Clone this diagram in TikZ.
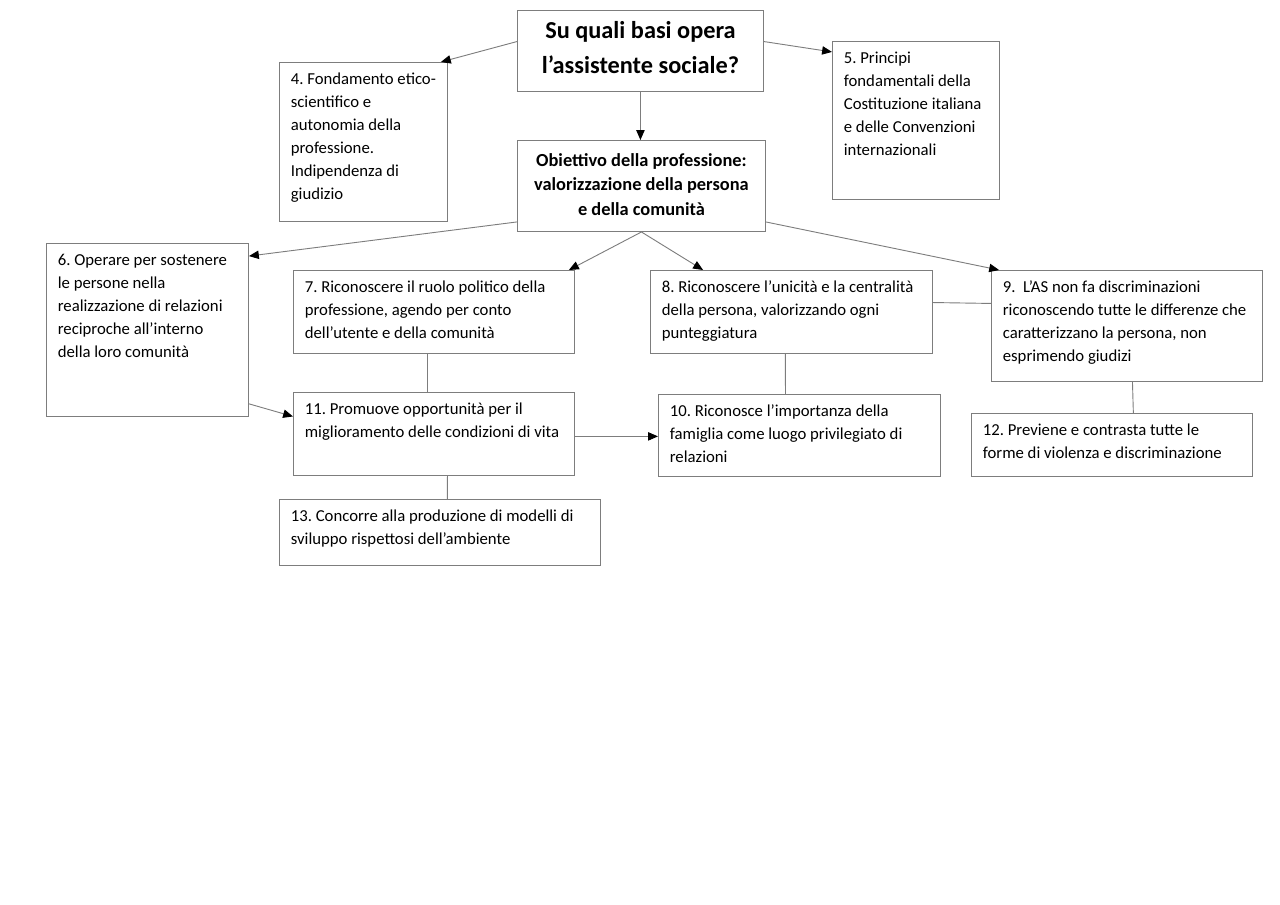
\documentclass[tikz,border=0pt]{standalone}
\usepackage{fontspec}
\setmainfont{Carlito}
\usepackage{tikz}
\usetikzlibrary{arrows.meta}
\frenchspacing

\definecolor{bordo}{RGB}{125,125,125}
% testo allineato in alto a sinistra dentro una casella di misura fissa
\newcommand{\cella}[3]{\parbox[c][#2][t]{#1}{\raggedright\vspace*{4pt}\strut #3}}

\begin{document}
\begin{tikzpicture}[x=0.6578pt, y=-0.6578pt]
    \tikzstyle{voce} = [draw=bordo, line width=0.6pt, anchor=north west, inner xsep=7.5pt, inner ysep=0pt, font=\fontsize{11}{15.1}\selectfont]
    \tikzstyle{centrale} = [draw=bordo, line width=0.6pt, anchor=north west, align=center, inner sep=0pt, font=\bfseries]
    \tikzstyle{freccia} = [draw=bordo, line width=0.6pt, -{Triangle[length=6.5pt, width=5.5pt, color=black]}]
    \tikzstyle{linea} = [draw=bordo, line width=0.6pt]
    \useasboundingbox (0,0) rectangle (1280,905);

    \node[centrale, minimum width=161.8pt, minimum height=53.3pt, font=\bfseries\fontsize{16}{23}\selectfont] (domanda) at (517,10)
        {Su quali basi opera\\l’assistente sociale?\rule[-4pt]{0pt}{0pt}};
    \node[centrale, minimum width=163.1pt, minimum height=59.9pt, font=\bfseries\fontsize{12.1}{16.4}\selectfont] (obiettivo) at (517,140)
        {Obiettivo della professione:\\valorizzazione della persona\\e della comunità\rule[-2pt]{0pt}{0pt}};

    \node[voce] (fondamento) at (279,62) {\cella{95.5pt}{104.6pt}{\mbox{4. Fondamento etico-}\\scientifico e\\autonomia della\\professione.\\Indipendenza di\\giudizio}};
    \node[voce] (principi) at (832,41) {\cella{94.9pt}{103.9pt}{5. Principi\\fondamentali della\\Costituzione italiana\\e delle Convenzioni\\internazionali}};
    \node[voce] (operare) at (46,243) {\cella{117.9pt}{113.8pt}{6. Operare per sostenere\\le persone nella\\realizzazione di relazioni\\reciproche all’interno\\della loro comunità}};
    \node[voce] (ruolo) at (293,270) {\cella{169.8pt}{54.6pt}{7. Riconoscere il ruolo politico della\\professione, agendo per conto\\dell’utente e della comunità}};
    \node[voce] (unicita) at (650,270) {\cella{170.5pt}{54.6pt}{8. Riconoscere l’unicità e la centralità\\della persona, valorizzando ogni\\punteggiatura}};
    \node[voce] (differenze) at (991,270) {\cella{163.3pt}{73pt}{9.\ \ L’AS non fa discriminazioni\\riconoscendo tutte le differenze che\\caratterizzano la persona, non\\esprimendo giudizi}};
    \node[voce] (opportunita) at (293,392) {\cella{169.8pt}{54.6pt}{11. Promuove opportunità per il\\miglioramento delle condizioni di vita}};
    \node[voce] (famiglia) at (658,394) {\cella{170.5pt}{53.9pt}{10. Riconosce l’importanza della\\famiglia come luogo privilegiato di\\relazioni}};
    \node[voce] (violenza) at (971,413) {\cella{169.8pt}{41.4pt}{12. Previene e contrasta tutte le\\forme di violenza e discriminazione}};
    \node[voce] (ambiente) at (279,499) {\cella{196.2pt}{43.4pt}{13. Concorre alla produzione di modelli di\\sviluppo rispettosi dell’ambiente}};

    % frecce dalla domanda
    \draw[freccia] ([yshift=6.2pt]domanda.west) -- ([xshift=-4.6pt]fondamento.north east);
    \draw[freccia] ([yshift=6.2pt]domanda.east) -- ([yshift=-7.2pt]principi.north west);
    \draw[freccia] (domanda.south) -- (domanda.south |- obiettivo.north);

    % frecce dall'obiettivo
    \draw[freccia] ([yshift=6.6pt]obiettivo.south west) -- ([yshift=-8.6pt]operare.north east);
    \draw[freccia] (obiettivo.south) -- ([xshift=-3.9pt]ruolo.north east);
    \draw[freccia] (obiettivo.south) -- ([xshift=34.9pt]unicita.north west);
    \draw[freccia] ([yshift=6.6pt]obiettivo.south east) -- ([xshift=5.3pt]differenze.north west);
    \draw[freccia] ([yshift=8.6pt]operare.south east) -- ([yshift=11.5pt]opportunita.west);
    \draw[freccia] ([yshift=-1.6pt]opportunita.east) -- ([yshift=-1.6pt]opportunita.east -| famiglia.west);

    % collegamenti senza punta
    \draw[linea] ([xshift=-4.3pt]ruolo.south) -- ([xshift=-4.3pt]opportunita.north);
    \draw[linea] ([xshift=-4pt]unicita.south) -- ([xshift=-9.2pt]famiglia.north);
    \draw[linea] ([yshift=6.2pt]unicita.east) -- ([yshift=14.8pt]differenze.west);
    \draw[linea] ([xshift=3.6pt]differenze.south) -- ([xshift=14.1pt]violenza.north);
    \draw[linea] ([xshift=8.9pt]opportunita.south) -- ([xshift=4.9pt]ambiente.north);
\end{tikzpicture}
\end{document}
